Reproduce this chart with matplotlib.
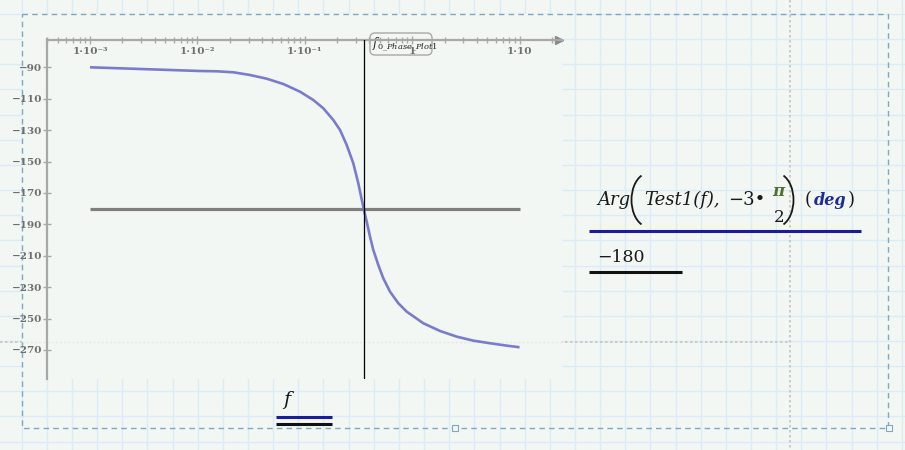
import numpy as np
import matplotlib
matplotlib.use("Agg")
import matplotlib.pyplot as plt
from matplotlib.patches import Rectangle, FancyBboxPatch, Arc
from matplotlib.ticker import LogLocator, FuncFormatter, FixedLocator, NullFormatter

# phase curve (frequency, degrees)
freq = [1e-3, 0.01057, 0.01512, 0.02159, 0.03089, 0.04417, 0.06307, 0.09022, 0.11996,
        0.14871, 0.18424, 0.21272, 0.24552, 0.28284, 0.31485, 0.353, 0.37713, 0.40458,
        0.43431, 0.4833, 0.53815, 0.62141, 0.74236, 0.8888, 1.2686, 1.8151, 2.5959,
        3.7068, 5.3027, 7.5839, 10.0]
phase = [-90.0, -92.36, -92.55, -93.18, -94.9, -97.26, -100.63, -105.54, -110.82,
         -116.1, -123.55, -129.91, -139.47, -151.12, -163.86, -180.0, -188.31, -197.86,
         -206.33, -215.88, -224.34, -232.87, -240.26, -245.61, -252.99, -257.9, -261.53,
         -264.08, -265.73, -267.26, -268.28]
ref_freq = [1e-3, 10.0]
ref_phase = [-180.0, -180.0]
f0 = 0.353
y_ticks = [-90, -110, -130, -150, -170, -190, -210, -230, -250, -270]

BG = '#f3f7f4'
GRIDC = '#dcebf7'
AXC = '#a8a8a8'
TXT = '#6e6e6e'
INK = '#1a1a1a'

plt.rcParams['mathtext.fontset'] = 'dejavuserif'

fig = plt.figure(figsize=(9.05, 4.5), dpi=100)
fig.patch.set_facecolor(BG)

# worksheet page in pixel coordinates
pg = fig.add_axes([0, 0, 1, 1], zorder=0)
pg.set_xlim(0, 905)
pg.set_ylim(450, 0)
pg.axis('off')

for gx in np.arange(-3.5, 905, 25.15):
    pg.plot([gx, gx], [0, 450], color=GRIDC, lw=1.0, zorder=1)
for gy in np.arange(14 - 25.15, 450, 25.15):
    pg.plot([0, 905], [gy, gy], color=GRIDC, lw=1.0, zorder=1)

# page break lines
pg.plot([790, 790], [0, 450], color='#c4c4c4', lw=1.2, ls=(0, (1.5, 1.5)), zorder=2)
pg.plot([0, 790], [342, 342], color='#c4c4c4', lw=1.2, ls=(0, (1.5, 1.5)), zorder=2)

# opaque plot region
pg.add_patch(Rectangle((22, 14), 540, 365, facecolor=BG, edgecolor='none', zorder=3))
pg.plot([22, 562], [342, 342], color='#e4e9e7', lw=1.0, ls=(0, (1.5, 1.5)), zorder=3)

# region frame
pg.add_patch(Rectangle((21.7, 14), 866.3, 414, facecolor='none', edgecolor='#7ea7c2',
                       lw=1.0, ls=(0, (4, 3)), zorder=4))
for sx in [455, 889]:
    pg.add_patch(Rectangle((sx - 3, 425), 6, 6, facecolor=BG, edgecolor='#7ea7c2', lw=0.8, zorder=5))

# plot
ax = fig.add_axes([47 / 905, (450 - 379) / 450, (562 - 47) / 905, (379 - 39.5) / 450], zorder=2)
ax.patch.set_alpha(0)
ax.set_xscale('log')
ax.set_xlim(10 ** -3.4004, 10 ** 1.3948)
ax.set_ylim(-288.5, -72.3)

ax.plot(freq, phase, color='#7b7bcc', lw=1.9, solid_capstyle='butt', solid_joinstyle='round', zorder=3)
ax.plot(ref_freq, ref_phase, color='#7f7f7f', lw=2.3, solid_capstyle='butt', zorder=2)
ax.axvline(f0, color='black', lw=0.9, zorder=4)

for s in ['bottom', 'right']:
    ax.spines[s].set_visible(False)
for s in ['top', 'left']:
    ax.spines[s].set_color(AXC)
    ax.spines[s].set_linewidth(1.6)


def dec_label(v, pos):
    k = int(round(np.log10(v)))
    if k == 0:
        return '1'
    if k == 1:
        return '1\u00b710'
    sup = {'-': '\u207b', '1': '\u00b9', '2': '\u00b2', '3': '\u00b3'}
    return '1\u00b710' + ''.join(sup[c] for c in str(k))


ax.xaxis.set_major_locator(FixedLocator([1e-3, 1e-2, 1e-1, 1, 10]))
ax.xaxis.set_minor_locator(LogLocator(base=10, subs=np.arange(2, 10), numticks=20))
ax.xaxis.set_major_formatter(FuncFormatter(dec_label))
ax.xaxis.set_minor_formatter(NullFormatter())
ax.tick_params(axis='x', which='both', bottom=False, labelbottom=False, top=True, labeltop=True,
               direction='inout', length=6, width=1, color=AXC, pad=-15,
               labelsize=7.5, labelcolor=TXT)
ax.tick_params(axis='x', which='minor', length=5)

ax.yaxis.set_major_locator(FixedLocator(y_ticks))
ax.yaxis.set_major_formatter(FuncFormatter(lambda v, p: '\u2212%d' % abs(v)))
ax.tick_params(axis='y', which='both', direction='inout', length=6, width=1, color=AXC,
               pad=0.5, labelsize=7.5, labelcolor=TXT)
for lab in ax.get_xticklabels() + ax.get_yticklabels():
    lab.set_family('DejaVu Serif')
    lab.set_weight('bold')

# arrow head of the x axis
pg.plot([559], [39.5], marker='>', markersize=6, color='#8a8a8a', zorder=6)

# marker label (sits over the "1" tick label, as in the worksheet)
pg.add_patch(FancyBboxPatch((370, 33), 62, 22, boxstyle='round,pad=0,rounding_size=5',
                            facecolor=BG, edgecolor='#a0a0a0', lw=1.0, alpha=0.9, zorder=6))
pg.text(372, 47, r'$f_{0\_Phase\_Plot1}$', fontsize=8.5, color='#222222', va='baseline', zorder=7)

# expression on the right
serif = 'DejaVu Serif'
base = 205
pg.text(597, base, 'Arg', family=serif, style='italic', fontsize=13, color=INK, va='baseline', zorder=7)
pg.add_patch(Arc((649, 200), 35, 54, theta1=107, theta2=253, color=INK, lw=1.3, zorder=7))
pg.text(644, base, 'Test1(f),', family=serif, style='italic', fontsize=13, color=INK, va='baseline', zorder=7)
pg.text(728, base, '\u22123\u2022', family=serif, fontsize=13, color=INK, va='baseline', zorder=7)
pg.text(778, 196, '\u03c0', family=serif, style='italic', weight='bold', fontsize=12,
        color='#4e7030', ha='center', va='baseline', zorder=7)
pg.text(779, 222, '2', family=serif, fontsize=12, color=INK, ha='center', va='baseline', zorder=7)
pg.add_patch(Arc((776, 200), 35, 54, theta1=-73, theta2=73, color=INK, lw=1.3, zorder=7))
pg.text(805, base, '(', family=serif, fontsize=13, color=INK, va='baseline', zorder=7)
pg.text(814, base, 'deg', family=serif, style='italic', weight='bold', fontsize=11.5,
        color='#1c2a9c', va='baseline', zorder=7)
pg.text(848, base, ')', family=serif, fontsize=13, color=INK, va='baseline', zorder=7)
pg.plot([589, 861], [231, 231], color='#1c1c9a', lw=2.2, solid_capstyle='butt', zorder=7)

pg.text(597, 262, '\u2212180', family=serif, fontsize=12.5, color=INK, va='baseline', zorder=7)
pg.plot([589, 682], [272, 272], color='#111111', lw=2.2, solid_capstyle='butt', zorder=7)

pg.text(283, 405, 'f', family=serif, style='italic', fontsize=14, color=INK, va='baseline', zorder=7)
pg.plot([276, 332], [417, 417], color='#1c1c9a', lw=2.2, solid_capstyle='butt', zorder=7)
pg.plot([276, 332], [424, 424], color='#111111', lw=2.2, solid_capstyle='butt', zorder=7)

fig.savefig('out.png', dpi=100, facecolor=BG)
